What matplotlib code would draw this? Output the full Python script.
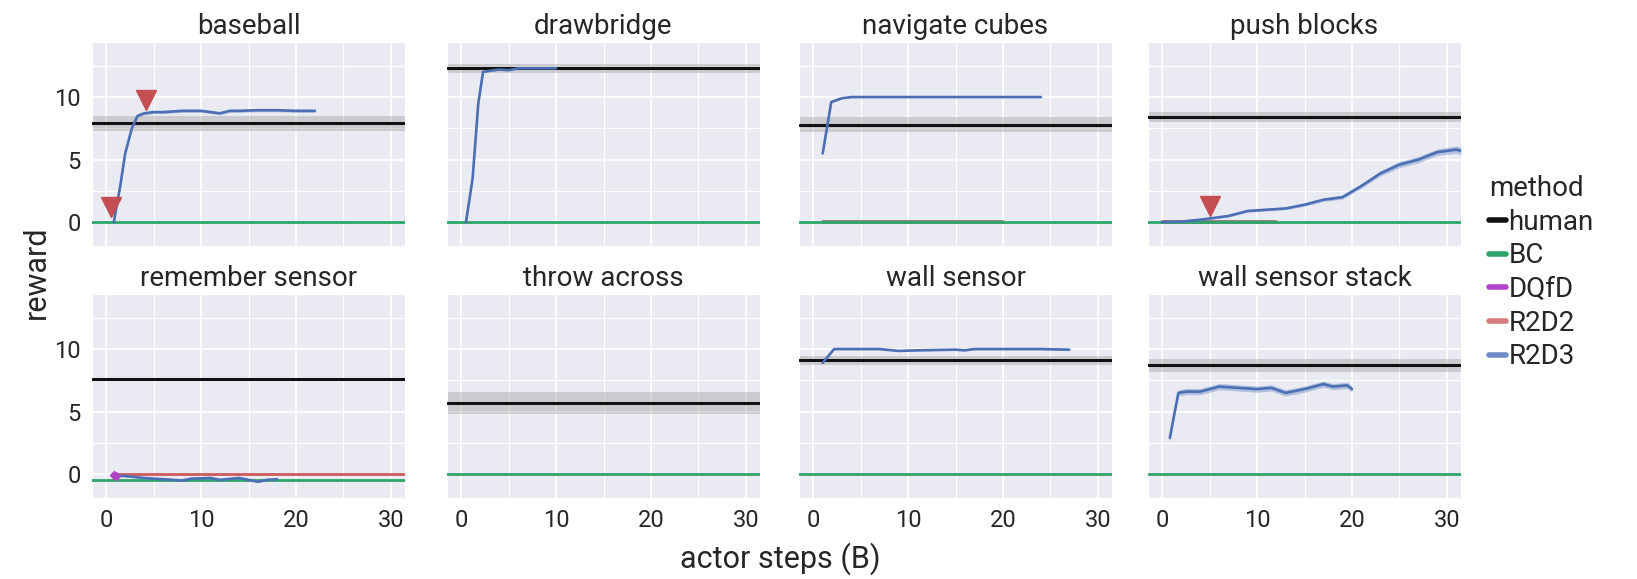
import matplotlib
matplotlib.use("Agg")
import matplotlib.pyplot as plt
from matplotlib.lines import Line2D
import numpy as np
import seaborn as sns

sns.set_style("darkgrid")
plt.rcParams['font.family'] = ['Roboto', 'DejaVu Sans']

# Colours
C_HUMAN = "#111111"
C_BC = "#2ea56a"
C_DQFD = "#b044c8"
C_R2D2 = "#cf5a5c"
C_R2D3 = "#4a6fb5"
C_TRI = "#c44e52"

TASKS = ["baseball", "drawbridge", "navigate cubes", "push blocks",
         "remember sensor", "throw across", "wall sensor", "wall sensor stack"]

# Human reference level and band half-width per task
HUMAN_MEAN = [7.9, 12.3, 7.8, 8.4, 7.6, 5.7, 9.1, 8.7]
HUMAN_ERR = [0.6, 0.35, 0.6, 0.4, 0.08, 0.9, 0.35, 0.5]

# BC level per task
BC_LEVEL = [0, 0, 0, 0, -0.5, 0, 0, 0]

# R2D3 learning curves
baseball_x = [0.8, 1.5, 2.0, 2.7, 3.3, 4, 5, 6, 8, 10, 11, 12, 13, 14, 16, 18, 20, 22]
baseball_y = [0, 3.0, 5.5, 7.5, 8.5, 8.7, 8.8, 8.8, 8.9, 8.9, 8.8, 8.7, 8.9, 8.9, 8.95, 8.95, 8.9, 8.9]
baseball_e = [0.12] * 18

drawbridge_x = [0.5, 1.2, 1.8, 2.3, 3, 4, 5, 6, 8, 10]
drawbridge_y = [0, 3.5, 9.5, 12.0, 12.1, 12.2, 12.15, 12.3, 12.3, 12.3]
drawbridge_e = [0.03] * 10

navigate_x = [1, 1.9, 3, 4, 8, 12, 16, 20, 24]
navigate_y = [5.5, 9.6, 9.9, 10.0, 10.0, 10.0, 10.0, 10.0, 10.0]
navigate_e = [0.03] * 9

push_x = [0, 2, 4, 6, 7, 9, 11, 13, 15, 17, 19, 21, 23, 25, 27, 29, 31, 31.5]
push_y = [0, 0.05, 0.2, 0.4, 0.5, 0.9, 1.0, 1.1, 1.4, 1.8, 2.0, 2.9, 3.9, 4.6, 5.0, 5.6, 5.8, 5.7]
push_e = [0.02, 0.03, 0.05, 0.08, 0.08, 0.1, 0.1, 0.1, 0.12, 0.14, 0.15, 0.18, 0.2, 0.25, 0.25, 0.25, 0.3, 0.3]

remember_x = [0.8, 2, 4, 6, 8, 9, 11, 12, 14, 16, 17, 18]
remember_y = [-0.1, -0.15, -0.3, -0.4, -0.5, -0.35, -0.3, -0.45, -0.3, -0.6, -0.45, -0.4]
remember_e = [0.05] * 12

wall_x = [1, 2.2, 4, 7, 9, 11, 15, 16, 17, 20, 24, 27]
wall_y = [8.9, 10.0, 10.0, 10.0, 9.85, 9.9, 9.95, 9.9, 10.0, 10.0, 10.0, 9.95]
wall_e = [0.04] * 12

stack_x = [0.8, 1.7, 2.5, 4, 5, 6, 8, 10, 11.5, 13, 15, 17, 18, 19.5, 20]
stack_y = [2.9, 6.5, 6.6, 6.6, 6.8, 7.0, 6.9, 6.8, 6.9, 6.5, 6.8, 7.2, 7.0, 7.1, 6.8]
stack_e = [0.25] * 15

R2D3 = {
    "baseball": (baseball_x, baseball_y, baseball_e),
    "drawbridge": (drawbridge_x, drawbridge_y, drawbridge_e),
    "navigate cubes": (navigate_x, navigate_y, navigate_e),
    "push blocks": (push_x, push_y, push_e),
    "remember sensor": (remember_x, remember_y, remember_e),
    "wall sensor": (wall_x, wall_y, wall_e),
    "wall sensor stack": (stack_x, stack_y, stack_e),
}

# R2D2 curves (flat at zero, mostly hidden under BC)
R2D2 = {
    "navigate cubes": ([1, 20], [0.0, 0.0]),
    "push blocks": ([0, 12], [0.0, 0.0]),
    "remember sensor": ([0.8, 31.5], [0.0, 0.0]),
}
# DQfD (only visible in remember sensor)
dqfd_x = [0.8, 1.0]
dqfd_y = [-0.1, -0.15]

# Red triangle markers (task, x, y)
TRIANGLES = [("baseball", 0.5, 1.2), ("baseball", 4.2, 9.8), ("push blocks", 5.0, 1.3)]

W, H = 1637, 579
fig = plt.figure(figsize=(W / 100, H / 100), dpi=100)

lefts = [92, 447, 799, 1148]
tops = [42, 294]
aw, ah = 313, 204

for i, task in enumerate(TASKS):
    r, c = divmod(i, 4)
    ax = fig.add_axes([lefts[c] / W, 1 - (tops[r] + ah) / H, aw / W, ah / H])
    ax.set_xlim(-1.5, 31.5)
    ax.set_ylim(-1.9, 14.4)
    ax.set_xticks([0, 10, 20, 30])
    ax.set_yticks([0, 5, 10])
    ax.set_xticks([5, 15, 25], minor=True)
    ax.set_yticks([2.5, 7.5, 12.5], minor=True)
    ax.grid(which="major", color="white", linewidth=1.3)
    ax.grid(which="minor", color="white", linewidth=0.8)
    ax.tick_params(which="both", length=0, labelsize=17, pad=8)
    if c != 0:
        ax.set_yticklabels([])
    if r != 1:
        ax.set_xticklabels([])
    ax.set_title(task, fontsize=20, pad=6)

    # human
    hm, he = HUMAN_MEAN[i], HUMAN_ERR[i]
    ax.axhspan(hm - he, hm + he, color="gray", alpha=0.3, lw=0, zorder=1)
    ax.axhline(hm, color=C_HUMAN, lw=2.2, zorder=3)

    if task in R2D2:
        rx, ry = R2D2[task]
        lw = 2 if task == "remember sensor" else 2.6
        ax.plot(rx, ry, color=C_R2D2 if task == "remember sensor" else "#8a6a6a",
                lw=lw, zorder=2.5)
    # BC
    ax.axhline(BC_LEVEL[i], color=C_BC, lw=2, zorder=3 if task == "remember sensor" else 2.6)

    if task in R2D3:
        x, y, e = (np.array(v) for v in R2D3[task])
        ax.fill_between(x, y - e, y + e, color=C_R2D3, alpha=0.35, lw=0, zorder=4)
        ax.plot(x, y, color=C_R2D3, lw=1.9, zorder=5)

    if task == "remember sensor":
        ax.plot(dqfd_x, dqfd_y, color=C_DQFD, lw=2.5, marker="D", ms=4, zorder=6)

    for t, tx, ty in TRIANGLES:
        if t == task:
            ax.plot(tx, ty, marker="v", color=C_TRI, ms=14, ls="none", zorder=7)

fig.text(36 / W, 1 - 272 / H, "reward", rotation=90, fontsize=22, ha="center", va="center")
fig.text(780 / W, 1 - 559 / H, "actor steps (B)", fontsize=22, ha="center", va="center")

handles = [Line2D([], [], color=C_HUMAN, lw=4),
           Line2D([], [], color=C_BC, lw=4),
           Line2D([], [], color=C_DQFD, lw=4),
           Line2D([], [], color=C_R2D2, lw=4, alpha=0.8),
           Line2D([], [], color=C_R2D3, lw=4, alpha=0.8)]
leg = fig.legend(handles, ["human", "BC", "DQfD", "R2D2", "R2D3"], title="method",
                 loc="upper left", bbox_to_anchor=(1489 / W, 1 - 175 / H),
                 frameon=False, fontsize=20, title_fontsize=20,
                 handlelength=0.6, handletextpad=0.1, labelspacing=0.24,
                 borderpad=0, borderaxespad=0)
leg._legend_box.align = "left"

fig.savefig("out.png", dpi=100)
